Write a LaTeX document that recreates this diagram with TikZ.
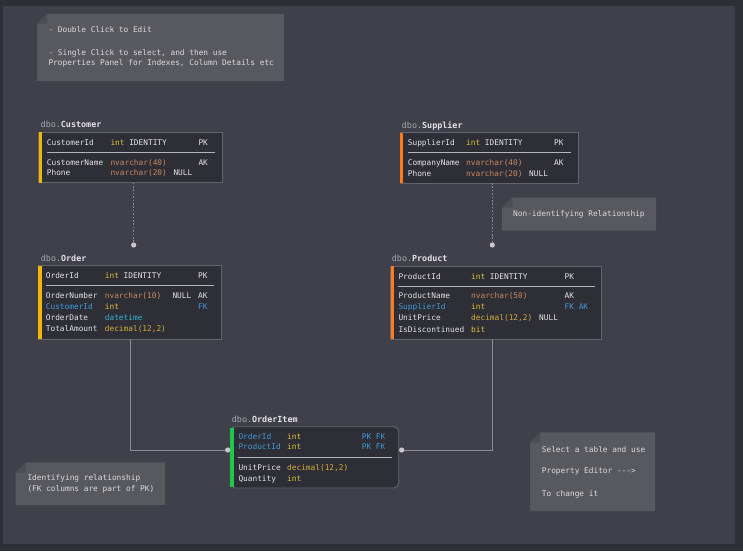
\documentclass[tikz,border=0pt]{standalone}
\usepackage{fontspec}
\newfontfamily\codefont{DejaVu Sans Mono}

% Farben
\definecolor{aussen}{HTML}{2F2F38}
\definecolor{flaeche}{HTML}{40404A}
\definecolor{tabfill}{HTML}{2E2E36}
\definecolor{rahmen}{HTML}{63636C}
\definecolor{trennfarbe}{HTML}{B4B4BA}
\definecolor{hell}{HTML}{E2E2E6}
\definecolor{grau}{HTML}{A6A6AC}
\definecolor{intgelb}{HTML}{E2C23A}
\definecolor{decgelb}{HTML}{D6AE3C}
\definecolor{nvorange}{HTML}{C98A5C}
\definecolor{dtcyan}{HTML}{35B2D4}
\definecolor{fkblau}{HTML}{3E9BD8}
\definecolor{gelb}{HTML}{F2B705}
\definecolor{orange}{HTML}{FF7A1A}
\definecolor{gruen}{HTML}{1EC84B}
\definecolor{linie}{HTML}{8C8C94}
\definecolor{punktfarbe}{HTML}{C8C8CC}
\definecolor{notizfarbe}{HTML}{58585F}
\definecolor{knickfarbe}{HTML}{4C4C54}
\definecolor{notiztextfarbe}{HTML}{DCDCDE}

\tikzset{
	tabelle/.style={draw=rahmen, fill=tabfill, line width=0.9pt, inner sep=0pt, outer sep=0pt, anchor=north west},
	zeile/.style={anchor=base west, inner sep=0pt, text=hell, font=\codefont\fontsize{7.8}{9}\selectfont},
	fk/.style={zeile, text=fkblau},
	titel/.style={anchor=base west, inner sep=0pt, text=grau, font=\codefont\fontsize{8.4}{10}\selectfont},
	trenner/.style={draw=trennfarbe, line width=0.8pt},
	verbinder/.style={draw=linie, line width=0.9pt},
	gepunktet/.style={verbinder, dash pattern=on 1.6pt off 1.8pt},
	punkt/.style={fill=punktfarbe},
	notiz/.style={fill=notizfarbe},
	knick/.style={fill=knickfarbe},
	notiztext/.style={zeile, text=notiztextfarbe}
}

\begin{document}
\begin{tikzpicture}[x=1pt, y=-1pt]
	\useasboundingbox (0,0) rectangle (743,551);

	% Hintergrund und Zeichenflaeche
	\fill[aussen] (0,0) rectangle (743,551);
	\fill[flaeche] (3,6) rectangle (735,544);

	% Notiz oben links
	\fill[notiz] (37,24) -- (47,14) -- (284,14) -- (284,81) -- (37,81) -- cycle;
	\fill[knick] (37,24) -- (47,14) -- (47,24) -- cycle;
	\node[notiztext] (hinweis1) at (48.3,33) {- Double Click to Edit};
	\node[notiztext] (hinweis2) at (48.3,55.5) {- Single Click to select, and then use};
	\node[notiztext] (hinweis3) at (48.3,66) {Properties Panel for Indexes, Column Details etc};

	% Tabelle Customer
	\node[titel] (custtitel) at (40.5,127.5) {dbo.\textcolor{hell}{\bfseries Customer}};
	\node[tabelle, minimum width=183.5pt, minimum height=50.5pt] (customer) at (38.5,132) {};
	\fill[gelb] (customer.north west) rectangle ++(3.6,50.5);
	\node[zeile] (cust1n) at (46.7,145) {CustomerId};
	\node[zeile] (cust1t) at (110.3,145) {\textcolor{intgelb}{int} IDENTITY};
	\node[zeile] (cust1k) at (198.3,145) {PK};
	\draw[trenner] (46.7,152) -- (215,152);
	\node[zeile] (cust2n) at (46.7,165) {CustomerName};
	\node[zeile, text=nvorange] (cust2t) at (110.3,165) {nvarchar(40)};
	\node[zeile] (cust2k) at (198.3,165) {AK};
	\node[zeile] (cust3n) at (46.7,175.5) {Phone};
	\node[zeile, text=nvorange] (cust3t) at (110.3,175.5) {nvarchar(20)};
	\node[zeile] (cust3x) at (173.3,175.5) {NULL};

	% Tabelle Supplier
	\node[titel] (supptitel) at (401.7,128) {dbo.\textcolor{hell}{\bfseries Supplier}};
	\node[tabelle, minimum width=178pt, minimum height=50.5pt] (supplier) at (400,132.5) {};
	\fill[orange] (supplier.north west) rectangle ++(3.4,50.5);
	\node[zeile] (supp1n) at (407.7,145.2) {SupplierId};
	\node[zeile] (supp1t) at (466,145.2) {\textcolor{intgelb}{int} IDENTITY};
	\node[zeile] (supp1k) at (554,145.2) {PK};
	\draw[trenner] (408,152.3) -- (571,152.3);
	\node[zeile] (supp2n) at (407.7,165.2) {CompanyName};
	\node[zeile, text=nvorange] (supp2t) at (466,165.2) {nvarchar(40)};
	\node[zeile] (supp2k) at (554,165.2) {AK};
	\node[zeile] (supp3n) at (407.7,176) {Phone};
	\node[zeile, text=nvorange] (supp3t) at (466,176) {nvarchar(20)};
	\node[zeile] (supp3x) at (529,176) {NULL};

	% Notiz zur nicht identifizierenden Beziehung
	\fill[notiz] (502,207.5) -- (512.5,197.5) -- (656,197.5) -- (656,230.5) -- (502,230.5) -- cycle;
	\fill[knick] (502,207.5) -- (512.5,197.5) -- (512.5,207.5) -- cycle;
	\node[notiztext] (hinweis4) at (513,216.2) {Non-identifying Relationship};

	% Tabelle Order
	\node[titel] (ordtitel) at (40.7,261.5) {dbo.\textcolor{hell}{\bfseries Order}};
	\node[tabelle, minimum width=182.7pt, minimum height=73.6pt] (order) at (38.3,265.7) {};
	\fill[gelb] (order.north west) rectangle ++(3.6,73.6);
	\node[zeile] (ord1n) at (45.7,278.6) {OrderId};
	\node[zeile] (ord1t) at (104.7,278.6) {\textcolor{intgelb}{int} IDENTITY};
	\node[zeile] (ord1k) at (198,278.6) {PK};
	\draw[trenner] (45.7,285.7) -- (214,285.7);
	\node[zeile] (ord2n) at (45.7,298.2) {OrderNumber};
	\node[zeile, text=nvorange] (ord2t) at (104.7,298.2) {nvarchar(10)};
	\node[zeile] (ord2x) at (172.3,298.2) {NULL};
	\node[zeile] (ord2k) at (198,298.2) {AK};
	\node[fk] (ord3n) at (45.7,309.2) {CustomerId};
	\node[zeile, text=intgelb] (ord3t) at (104.7,309.2) {int};
	\node[fk] (ord3k) at (198,309.2) {FK};
	\node[zeile] (ord4n) at (45.7,320.2) {OrderDate};
	\node[zeile, text=dtcyan] (ord4t) at (104.7,320.2) {datetime};
	\node[zeile] (ord5n) at (45.7,331.5) {TotalAmount};
	\node[zeile, text=decgelb] (ord5t) at (104.7,331.5) {decimal(12,2)};

	% Tabelle Product
	\node[titel] (prodtitel) at (391.7,261.8) {dbo.\textcolor{hell}{\bfseries Product}};
	\node[tabelle, minimum width=211pt, minimum height=73.3pt] (product) at (390.7,266) {};
	\fill[orange] (product.north west) rectangle ++(3.6,73.3);
	\node[zeile] (prod1n) at (398.3,279.2) {ProductId};
	\node[zeile] (prod1t) at (471,279.2) {\textcolor{intgelb}{int} IDENTITY};
	\node[zeile] (prod1k) at (564.5,279.2) {PK};
	\draw[trenner] (398.3,286.5) -- (595,286.5);
	\node[zeile] (prod2n) at (398.3,298.8) {ProductName};
	\node[zeile, text=nvorange] (prod2t) at (471,298.8) {nvarchar(50)};
	\node[zeile] (prod2k) at (564.5,298.8) {AK};
	\node[fk] (prod3n) at (398.3,309.8) {SupplierId};
	\node[zeile, text=intgelb] (prod3t) at (471,309.8) {int};
	\node[fk] (prod3k) at (564.5,309.8) {FK AK};
	\node[zeile] (prod4n) at (398.3,320.8) {UnitPrice};
	\node[zeile, text=decgelb] (prod4t) at (471,320.8) {decimal(12,2)};
	\node[zeile] (prod4x) at (539,320.8) {NULL};
	\node[zeile] (prod5n) at (398.3,332) {IsDiscontinued};
	\node[zeile, text=intgelb] (prod5t) at (471,332) {bit};

	% Tabelle OrderItem
	\node[titel] (itemtitel) at (231.7,422) {dbo.\textcolor{hell}{\bfseries OrderItem}};
	\node[tabelle, rounded corners=5pt, minimum width=168.4pt, minimum height=61.3pt] (orderitem) at (230.3,426.7) {};
	\fill[gruen] ([yshift=-1.5pt]orderitem.north west) rectangle ++(3.4,58.3);
	\node[fk] (item1n) at (238.3,439.1) {OrderId};
	\node[zeile, text=intgelb] (item1t) at (287,439.1) {int};
	\node[fk] (item1k) at (361.7,439.1) {PK FK};
	\node[fk] (item2n) at (238.3,449.8) {ProductId};
	\node[zeile, text=intgelb] (item2t) at (287,449.8) {int};
	\node[fk] (item2k) at (361.7,449.8) {PK FK};
	\draw[trenner] (238.3,457.7) -- (391.7,457.7);
	\node[zeile] (item3n) at (238.3,470.1) {UnitPrice};
	\node[zeile, text=decgelb] (item3t) at (287,470.1) {decimal(12,2)};
	\node[zeile] (item4n) at (238.3,481.1) {Quantity};
	\node[zeile, text=intgelb] (item4t) at (287,481.1) {int};

	% Beziehungen Customer -> Order und Supplier -> Product (gepunktet)
	\coordinate (kcust) at (133.7,245);
	\coordinate (ksupp) at (492.3,245);
	\draw[gepunktet] (kcust |- customer.south) -- (kcust);
	\fill[punkt] (kcust) circle [radius=2.6];
	\draw[gepunktet] (ksupp |- supplier.south) -- (ksupp);
	\fill[punkt] (ksupp) circle [radius=2.6];

	% Beziehungen Order -> OrderItem und Product -> OrderItem (durchgezogen)
	\coordinate (kord) at (130.7,450);
	\coordinate (kprod) at (492.3,450);
	\draw[verbinder] (kord |- order.south) -- (kord) -- (orderitem.west |- kord);
	\fill[punkt] ([xshift=-2.6pt]orderitem.west |- kord) circle [radius=2.6];
	\draw[verbinder] (kprod |- product.south) -- (kprod) -- (orderitem.east |- kprod);
	\fill[punkt] ([xshift=3pt]orderitem.east |- kprod) circle [radius=2.6];

	% Notiz zur identifizierenden Beziehung
	\fill[notiz] (15.7,472.5) -- (26,462.3) -- (165,462.3) -- (165,505) -- (15.7,505) -- cycle;
	\fill[knick] (15.7,472.5) -- (26,462.3) -- (26,472.5) -- cycle;
	\node[notiztext] (hinweis5) at (27.3,480.1) {Identifying relationship};
	\node[notiztext] (hinweis6) at (27.3,491.1) {(FK columns are part of PK)};

	% Notiz unten rechts
	\fill[notiz] (530,442.5) -- (540.3,432.3) -- (655,432.3) -- (655,511) -- (530,511) -- cycle;
	\fill[knick] (530,442.5) -- (540.3,432.3) -- (540.3,442.5) -- cycle;
	\node[notiztext] (hinweis7) at (541.7,452.1) {Select a table and use};
	\node[notiztext] (hinweis8) at (541.7,473.8) {Property Editor --->};
	\node[notiztext] (hinweis9) at (541.7,496.8) {To change it};

\end{tikzpicture}
\end{document}
